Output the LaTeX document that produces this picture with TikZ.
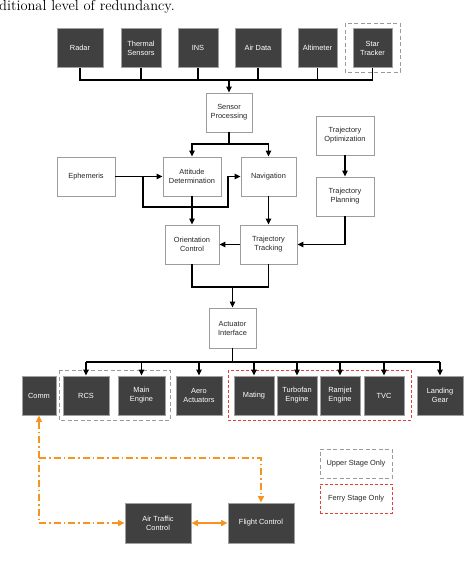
\documentclass[tikz,border=0pt]{standalone}
\usepackage{fontspec}
\newfontfamily\boxfont{Liberation Sans}
\usetikzlibrary{arrows.meta,calc}
\definecolor{darkbox}{HTML}{404040}
\definecolor{darkedge}{HTML}{A0A0A0}
\definecolor{boxgray}{HTML}{9C9C9C}
\definecolor{groupgray}{HTML}{9A9A9A}
\definecolor{groupred}{HTML}{E0403A}
\definecolor{linkorange}{HTML}{F7931E}
\tikzset{
  box/.style={draw=boxgray, line width=0.9pt, minimum height=39pt, inner sep=1pt,
    align=center, font=\boxfont\fontsize{7.4}{9}\selectfont, text=black!85},
  dbox/.style={box, fill=darkbox, draw=darkedge, text=white},
  wbox/.style={box, fill=white},
  plainline/.style={line width=1.1pt, black},
  arrowline/.style={plainline, -{Triangle[length=6pt,width=5.5pt]}},
  grouprect/.style={dashed, dash pattern=on 4pt off 2.5pt, line width=0.9pt},
  orangedash/.style={draw=linkorange, line width=1.5pt, dash pattern=on 7pt off 3pt on 1.5pt off 3pt},
  otip/.tip={Triangle[length=6.5pt,width=6pt]},
}
\begin{document}
\begin{tikzpicture}[x=1pt,y=-1pt]
\useasboundingbox (0,0) rectangle (474,566);
\fill[white] (0,0) rectangle (474,566);

\node[anchor=base west, inner sep=0pt, font=\fontsize{14.5}{17}\selectfont] (caption) at (-1,10.6) {ditional level of redundancy.};

% top sensors
\node[dbox, minimum width=46pt] (radar) at (80,48) {Radar};
\node[dbox, minimum width=40pt] (thermal) at (141,48) {Thermal\\Sensors};
\node[dbox, minimum width=40pt] (ins) at (198,48) {INS};
\node[dbox, minimum width=46pt] (airdata) at (258,48) {Air Data};
\node[dbox, minimum width=39pt] (altimeter) at (317.5,48) {Altimeter};
\node[dbox, minimum width=39pt] (star) at (372.5,48) {Star\\Tracker};
\draw[grouprect, draw=groupgray] (345,23) rectangle (400,72);

% processing
\node[wbox, minimum width=46pt] (sensor) at (229,112.5) {Sensor\\Processing};
\node[wbox, minimum width=58pt] (trajopt) at (345,135.5) {Trajectory\\Optimization};
\node[wbox, minimum width=58pt] (trajplan) at (345,196.5) {Trajectory\\Planning};
\node[wbox, minimum width=58pt] (ephem) at (86,176.5) {Ephemeris};
\node[wbox, minimum width=58pt] (attdet) at (192,176.5) {Attitude\\Determination};
\node[wbox, minimum width=55pt] (nav) at (268.5,176.5) {Navigation};
\node[wbox, minimum width=54pt] (orient) at (192,244.5) {Orientation\\Control};
\node[wbox, minimum width=57pt] (track) at (268.5,244.5) {Trajectory\\Tracking};
\node[wbox, minimum width=47pt, minimum height=40pt] (act) at (232.5,328) {Actuator\\Interface};

% actuators
\node[dbox, minimum width=34pt] (comm) at (39,395.5) {Comm};
\node[dbox, minimum width=46pt] (rcs) at (86,395.5) {RCS};
\node[dbox, minimum width=47pt] (main) at (141.5,395.5) {Main\\Engine};
\node[dbox, minimum width=46pt] (aero) at (199,395.5) {Aero\\Actuators};
\node[dbox, minimum width=40pt] (mating) at (254,395.5) {Mating};
\node[dbox, minimum width=40pt] (turbo) at (297,395.5) {Turbofan\\Engine};
\node[dbox, minimum width=40pt] (ramjet) at (340,395.5) {Ramjet\\Engine};
\node[dbox, minimum width=40pt] (tvc) at (384,395.5) {TVC};
\node[dbox, minimum width=46pt] (landing) at (440,395.5) {Landing\\Gear};
\draw[grouprect, draw=groupgray] (59,370) rectangle (170,420);
\draw[grouprect, draw=groupred, dash pattern=on 3pt off 2pt] (228,370) rectangle (411,420);

% bottom
\node[dbox, minimum width=66pt, minimum height=40pt] (atc) at (158,523) {Air Traffic\\Control};
\node[dbox, minimum width=66pt, minimum height=40pt] (fc) at (261,523) {Flight Control};

% legend
\node[box, draw=groupgray, grouprect, minimum width=72pt, minimum height=29pt] (legup) at (356,463.5) {Upper Stage Only};
\node[box, draw=groupred, grouprect, dash pattern=on 3pt off 2pt, minimum width=72pt, minimum height=29pt] (legferry) at (356,498.5) {Ferry Stage Only};

% sensor bus
\coordinate (busl) at (80,80);
\coordinate (busr) at (372.5,80);
\draw[plainline] (radar.south) -- (busl) -- (busr) -- (star.south);
\foreach \n in {thermal,ins,airdata,altimeter} \draw[plainline] (\n.south) -- (\n.south |- busl);
\draw[arrowline] (sensor.north |- busl) -- (sensor.north);

% sensor processing split
\coordinate (sp) at (229,144);
\draw[plainline] (sensor.south) -- (sp);
\draw[arrowline] (sp) -| (attdet.north);
\draw[arrowline] (sp) -| (nav.north);

% ephemeris
\coordinate (eb) at (143,176.5);
\coordinate (ec1) at (143,207);
\coordinate (ec2) at (228,207);
\coordinate (ec3) at (228,176.5);
\draw[arrowline] (ephem.east) -- (attdet.west);
\draw[arrowline] (eb) -- (ec1) -- (ec2) -- (ec3) -- (nav.west);

\draw[arrowline] (attdet.south) -- (orient.north);
\draw[arrowline] (nav.south) -- (track.north);
\draw[arrowline] (track.west) -- (orient.east);
\draw[arrowline] (trajopt.south) -- (trajplan.north);
\draw[arrowline] (trajplan.south) |- (track.east);

% merge into actuator
\coordinate (mg) at (232.5,287);
\draw[plainline] (orient.south) |- (mg) -| (track.south);
\draw[arrowline] (mg) -- (act.north);

% actuator bus
\coordinate (ab) at (232.5,362);
\draw[plainline] (act.south) -- (ab);
\draw[plainline] (rcs.north |- ab) -- (landing.north |- ab);
\foreach \n in {rcs,main,aero,mating,turbo,ramjet,tvc,landing}
  \draw[arrowline] (\n.north |- ab) -- (\n.north);

% orange links
\coordinate (ob) at (39,458);
\draw[orangedash, otip-otip] (comm.south) |- (atc.west);
\draw[orangedash, -otip] (ob) -| (fc.north);
\draw[draw=linkorange, line width=1.8pt, otip-otip] (atc.east) -- (fc.west);
\end{tikzpicture}
\end{document}
